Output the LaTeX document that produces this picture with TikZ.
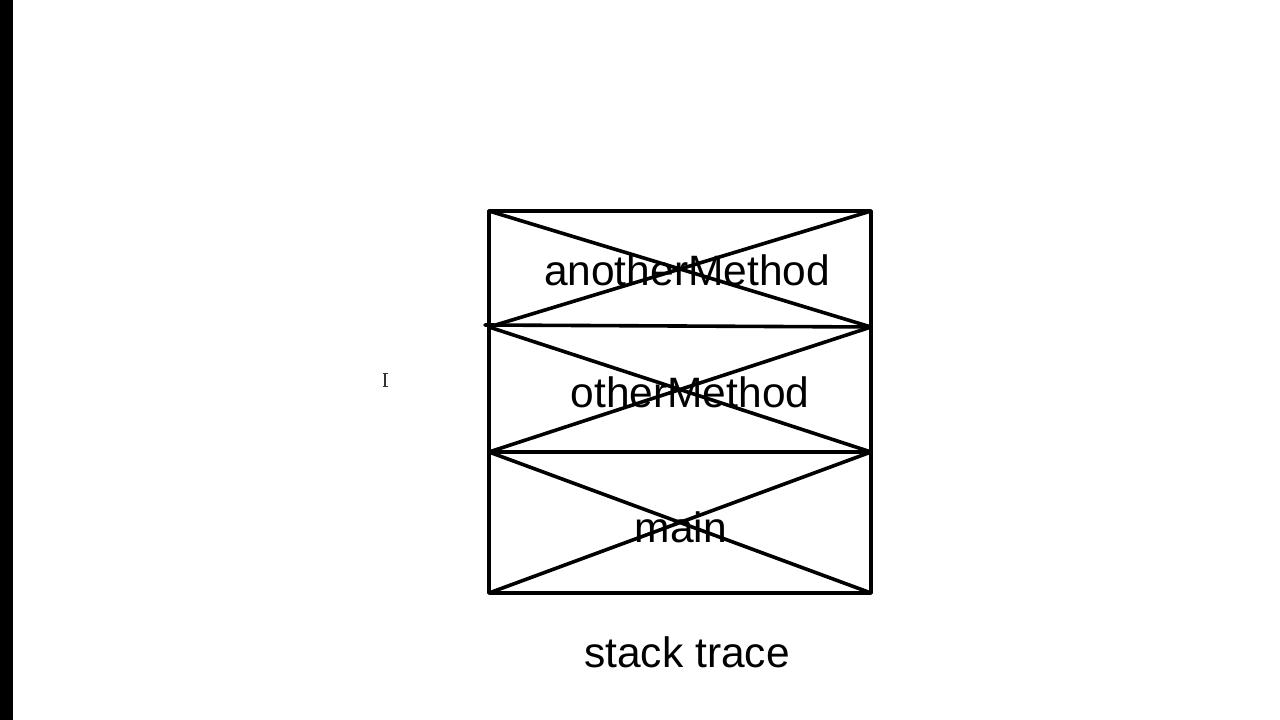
\documentclass[tikz,border=0pt]{standalone}
\usepackage{fontspec}
\setmainfont{Liberation Sans}
\usetikzlibrary{math}
\tikzset{
  frameline/.style={line width=3.6pt, line cap=round, line join=round},
  label/.style={font=\fontsize{42.5}{50}\selectfont, inner sep=0pt},
}
\begin{document}
\begin{tikzpicture}[x=1pt,y=-1pt]
\tikzmath{
\xl=489; \xr=871;
}
\useasboundingbox (0,0) rectangle (1280,720);
\fill[white] (0,0) rectangle (1280,720);
\fill[black] (0,0) rectangle (13,720);

%corners of the frames
\coordinate (T1) at (\xl,211);
\coordinate (T2) at (\xr,211);
\coordinate (M1) at (\xl,327);
\coordinate (M2) at (\xr,327);
\coordinate (N1) at (\xl,452);
\coordinate (N2) at (\xr,452);
\coordinate (B1) at (\xl,593);
\coordinate (B2) at (\xr,593);

%frames
\draw[frameline] (T1) rectangle (B2);
\draw[frameline] (485,325) -- (M2);
\draw[frameline] (N1) -- (N2);

%crosses
\draw[frameline] (T1) -- (M2);
\draw[frameline] (M1) -- (T2);
\draw[frameline] (M1) -- (N2);
\draw[frameline] (N1) -- (M2);
\draw[frameline] (N1) -- (B2);
\draw[frameline] (B1) -- (N2);

\node[label] (another) at (687,270) {anotherMethod};
\node[label] (other) at (690,392) {otherMethod};
\node[label] (main) at (681,527) {main};
\node[label] (trace) at (687,652) {stack trace};

%cursor
\draw[line width=1.3pt, black!80] (385,373) -- (385,386);
\draw[line width=1pt, black!80] (382.5,373) -- (387.5,373) (382.5,386) -- (387.5,386);
\end{tikzpicture}
\end{document}
